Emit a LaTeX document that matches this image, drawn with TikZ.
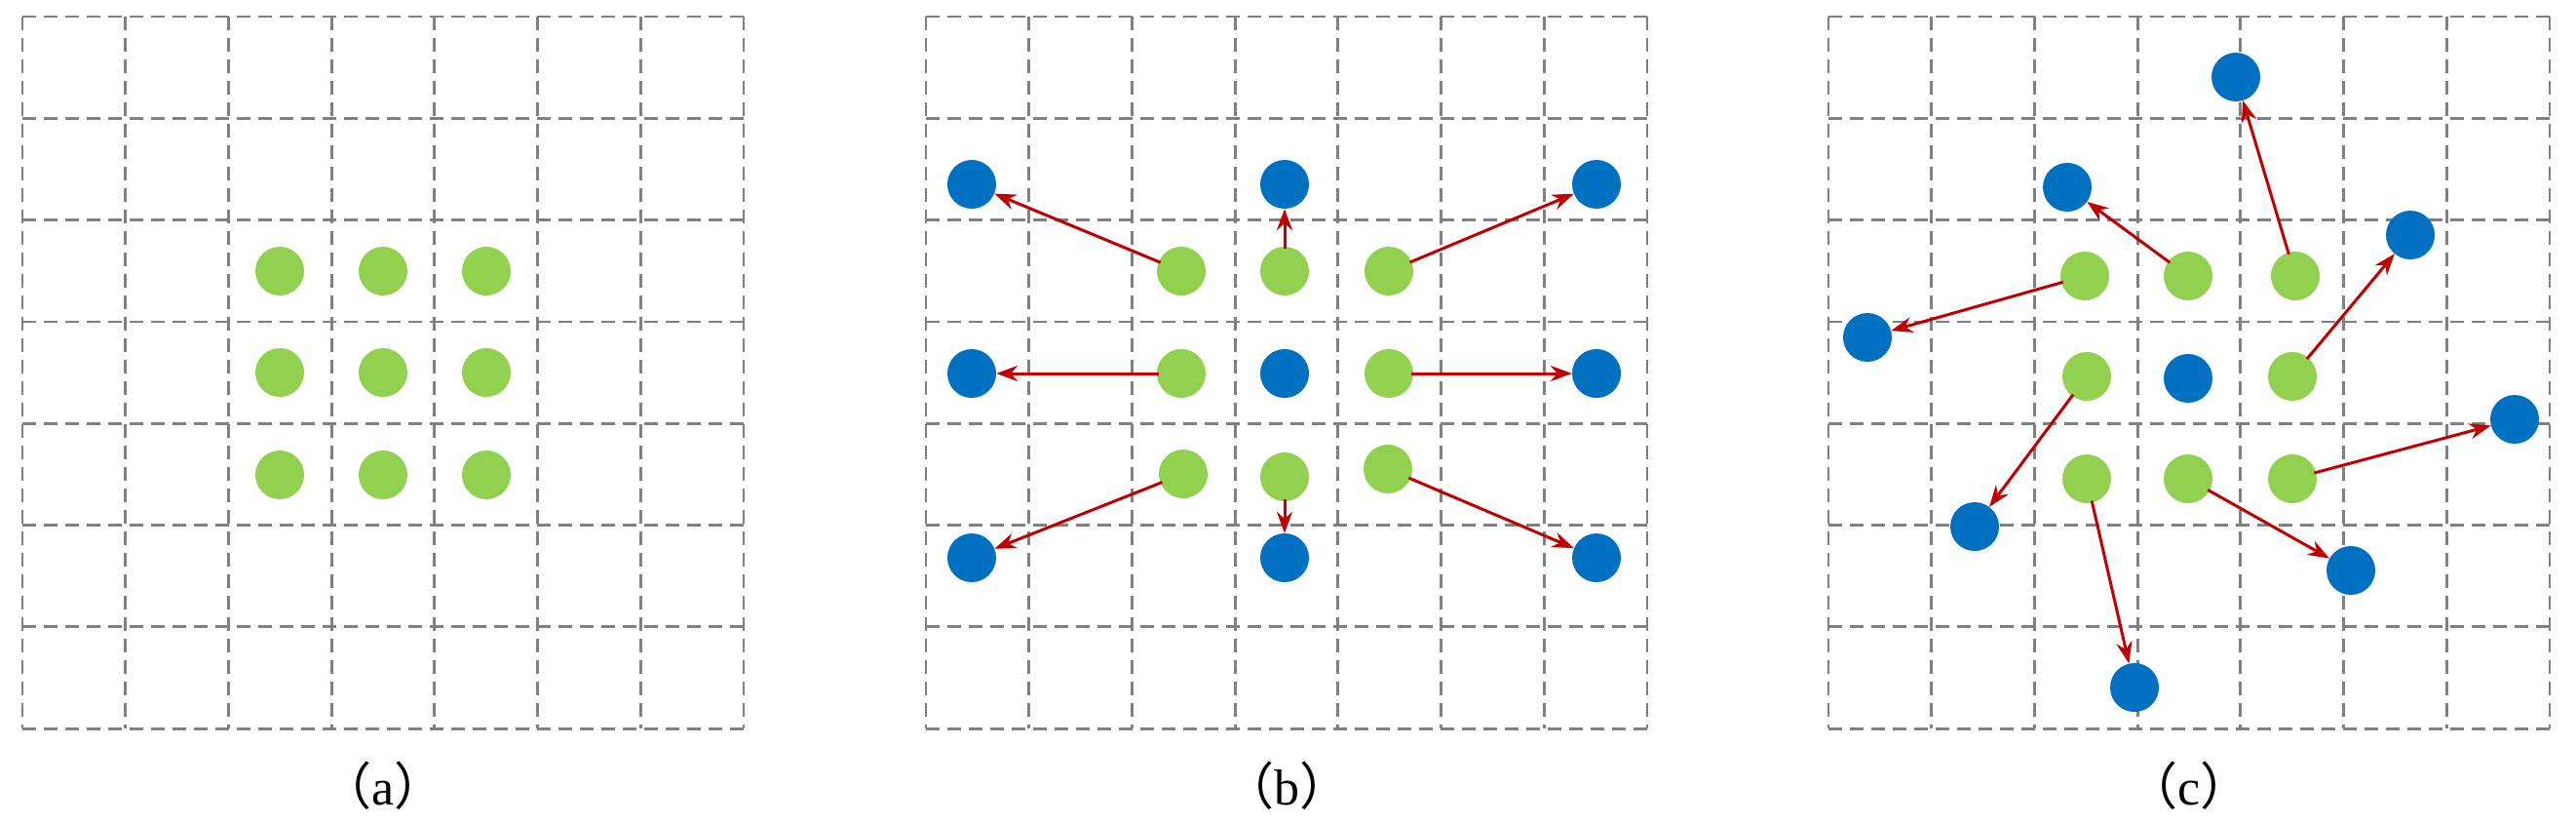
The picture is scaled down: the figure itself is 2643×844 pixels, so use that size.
\documentclass[tikz,border=0pt]{standalone}
\usepackage{fontspec}
\setmainfont{Liberation Serif}
\newfontfamily\cjk{Noto Sans CJK SC}
\usetikzlibrary{arrows.meta}
\definecolor{gdot}{RGB}{146,208,80}
\definecolor{bdot}{RGB}{0,112,192}
\definecolor{arr}{RGB}{192,0,0}
\definecolor{gridc}{RGB}{128,128,128}
\tikzset{
  gridline/.style={draw=gridc,line width=2.8pt,dash pattern=on 14pt off 8pt},
  gd/.style={circle,fill=gdot,minimum size=50pt,inner sep=0pt},
  bd/.style={circle,fill=bdot,minimum size=50pt,inner sep=0pt},
  mv/.style={draw=arr,line width=3pt,-{Stealth[length=22pt,width=16pt]},shorten <=-2pt},
  lab/.style={font=\fontsize{52}{56}\selectfont}
}
\begin{document}
\begin{tikzpicture}[x=1pt,y=-1pt]
\useasboundingbox (0,0) rectangle (2643,844);
\foreach \x in {23,950,1876}{
  \foreach \i in {0,...,7}{
    \draw[gridline] ({\x+\i*105.7},17) -- ({\x+\i*105.7},747);
    \draw[gridline] (\x,{17+\i*104.3}) -- ({\x+740},{17+\i*104.3});
  }
}
% panel a
\foreach \c/\xx in {1/287,2/393,3/499}{
  \foreach \r/\yy in {1/278,2/382,3/487}{
    \node[gd] (a\c\r) at (\xx,\yy) {};
  }
}
% panel b
\node[gd] (b11) at (1212,278) {};
\node[gd] (b21) at (1318,278) {};
\node[gd] (b31) at (1425,278) {};
\node[gd] (b12) at (1212,383) {};
\node[bd] (b22) at (1318,383) {};
\node[gd] (b32) at (1425,383) {};
\node[gd] (b13) at (1214,486) {};
\node[gd] (b23) at (1318,489) {};
\node[gd] (b33) at (1424,481) {};
\node[bd] (B11) at (997,189) {};
\node[bd] (B21) at (1318,189) {};
\node[bd] (B31) at (1638,189) {};
\node[bd] (B12) at (997,383) {};
\node[bd] (B32) at (1638,383) {};
\node[bd] (B13) at (997,572) {};
\node[bd] (B23) at (1318,572) {};
\node[bd] (B33) at (1638,572) {};
\foreach \n in {11,21,31,12,32,13,23,33}{
  \draw[mv] (b\n) -- (B\n);
}
% panel c
\node[gd] (c11) at (2139,283) {};
\node[gd] (c21) at (2245,283) {};
\node[gd] (c31) at (2355,283) {};
\node[gd] (c12) at (2141,386) {};
\node[bd] (c22) at (2245,388) {};
\node[gd] (c32) at (2352,386) {};
\node[gd] (c13) at (2141,491) {};
\node[gd] (c23) at (2245,491) {};
\node[gd] (c33) at (2352,491) {};
\node[bd] (C11) at (1916,346) {};
\node[bd] (C21) at (2121,192) {};
\node[bd] (C31) at (2294,79) {};
\node[bd] (C12) at (2026,540) {};
\node[bd] (C32) at (2473,241) {};
\node[bd] (C13) at (2190,705) {};
\node[bd] (C23) at (2412,585) {};
\node[bd] (C33) at (2580,430) {};
\foreach \n in {11,21,31,12,32,13,23,33}{
  \draw[mv] (c\n) -- (C\n);
}
\node[lab] (la) at (393,806) {{\cjk （}a{\cjk ）}};
\node[lab] (lb) at (1320,806) {{\cjk （}b{\cjk ）}};
\node[lab] (lc) at (2246,806) {{\cjk （}c{\cjk ）}};
\end{tikzpicture}
\end{document}
